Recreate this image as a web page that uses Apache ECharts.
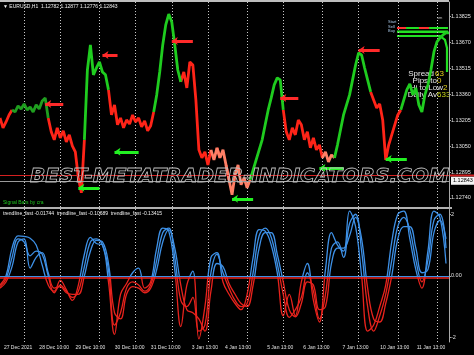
<!DOCTYPE html>
<html><head><meta charset="utf-8">
<script src="https://cdn.jsdelivr.net/npm/echarts@6/dist/echarts.min.js"></script>
<style>html,body{margin:0;padding:0;background:#000}#c{width:474px;height:355px}</style>
</head><body><div id="c"></div>
<script>
// ---- price panel data (EURUSD H1 close) ----
const priceClose = [
 1.13219,1.13160,1.13195,1.13237,1.13267,1.13255,1.13291,1.13273,1.13303,1.13267,
 1.13285,1.13255,1.13297,1.13273,1.13321,1.13339,1.13219,1.13136,1.13088,1.13160,
 1.13100,1.13142,1.13076,1.13118,1.13052,1.13016,1.12861,1.12771,1.13088,1.13506,
 1.13656,1.13477,1.13518,1.13554,1.13494,1.13477,1.13387,1.13237,1.13297,1.13178,
 1.13219,1.13160,1.13207,1.13183,1.13237,1.13195,1.13219,1.13166,1.13201,1.13142,
 1.13172,1.13255,1.13357,1.13494,1.13656,1.13776,1.13841,1.13793,1.13656,1.13506,
 1.13435,1.13494,1.13399,1.13554,1.13536,1.13327,1.13028,1.12980,1.13016,1.12938,
 1.13028,1.12968,1.13040,1.12980,1.13028,1.12938,1.12849,1.12759,1.12879,1.12938,
 1.12819,1.12861,1.12801,1.12849,1.12908,1.12968,1.13028,1.13088,1.13178,1.13267,
 1.13339,1.13417,1.13459,1.13447,1.13267,1.13136,1.13088,1.13160,1.13118,1.13207,
 1.13178,1.13088,1.13136,1.13040,1.13100,1.13028,1.13058,1.12980,1.13016,1.12956,
 1.12998,1.12980,1.13058,1.13148,1.13237,1.13297,1.13357,1.13447,1.13536,1.13608,
 1.13596,1.13518,1.13447,1.13375,1.13327,1.13279,1.13303,1.13207,1.12968,1.13058,
 1.13118,1.13178,1.13237,1.13267,1.13327,1.13387,1.13423,1.13357,1.13399,1.13297,
 1.13255,1.13357,1.13417,1.13506,1.13614,1.13674,1.13698,1.13716,1.13728,1.13728
];
// bar colour runs: G = up (green), D = weak up (dark green), R = down (red), S = weak down (salmon)
const trendRuns = [['R',4],['D',12],['R',12],['G',8],['R',15],['G',9],['R',10],['S',2],['R',1],['S',2],['R',1],['S',7],['G',11],['R',13],['S',4],['G',12],['R',10],['G',17]];
// [startBar, endBar, price]
const resistanceMarks = [[15,21,1.13303],[34,39,1.13596],[57,64,1.13680],[93,99,1.13339],[119,126,1.13626]];
const supportMarks = [[26,33,1.12801],[38,46,1.13016],[77,84,1.12735],[106,114,1.12920],[128,135,1.12974]];
const askPrice = 1.12877;
const bidPrice = 1.12843;
const priceTicks = [1.12740,1.12895,1.13050,1.13205,1.13360,1.13515,1.13670,1.13825];

// ---- oscillator panel (trendline_fast x3, every 2nd bar) ----
const oscA = [-0.3,0.0,0.9,1.3,1.28,1.22,1.0,0.35,-0.3,-0.5,
 -0.15,-0.45,-0.8,-0.3,0.7,1.25,1.05,1.0,-0.2,-1.9,
 -0.6,-0.25,0.1,0.25,-0.4,-0.2,0.9,1.55,1.45,0.2,
 -1.65,-0.3,0.15,-2.05,-1.0,0.6,0.75,-0.2,-0.6,-0.9,
 -1.1,-0.6,0.6,1.5,1.45,1.0,0.1,-1.3,-0.6,-1.3,
 -0.2,0.4,-0.8,-1.5,0.2,1.4,1.0,0.8,2.1,1.6,
 0.0,-1.8,-1.6,-1.0,-0.3,1.1,2.0,2.1,1.2,0.2,
 -0.4,0.8,2.1,1.9,0.4];
const oscB = [-0.35,-0.1,0.6,1.2,1.1,0.65,0.8,0.7,0.0,-0.55,
 -0.3,-0.5,-0.7,-0.5,0.3,1.1,1.2,1.0,0.2,-1.6,
 -1.2,-0.4,-0.2,-0.3,-0.5,-0.3,0.5,1.4,1.55,0.6,
 -0.8,-1.0,-0.7,-1.8,-1.6,0.1,0.7,0.1,-0.4,-0.8,
 -1.0,-0.9,0.1,1.3,1.55,1.25,0.4,-0.6,-1.35,-1.1,
 -0.7,0.1,-0.5,-1.4,-0.6,0.9,1.1,0.6,1.7,2.0,
 0.8,-1.0,-1.8,-1.3,-0.6,0.5,1.6,1.9,1.5,0.5,
 -0.2,0.5,1.8,2.0,0.9];
const oscC = [-0.4,-0.2,0.3,1.1,1.2,0.25,0.6,0.75,0.1,-0.4,
 -0.35,-0.55,-0.6,-0.6,0.0,0.8,1.15,1.1,0.4,-1.2,
 -1.4,-0.6,-0.35,-0.4,-0.55,-0.4,0.2,1.1,1.5,0.9,
 -0.3,-1.1,-1.2,-1.4,-1.8,-0.5,0.4,0.3,-0.25,-0.6,
 -0.9,-1.0,-0.3,0.9,1.4,1.4,0.7,-0.2,-1.1,-1.33,
 -0.9,-0.2,-0.3,-1.1,-1.0,0.4,0.9,0.9,1.3,1.9,
 1.2,-0.4,-1.4,-1.5,-0.9,0.0,1.2,1.6,1.6,0.9,
 0.1,0.2,1.4,1.8,1.2];
const oscTicks = [-2,0,2];
const oscLegend = 'trendline_fast -0.01744  trendline_fast -0.10689  trendline_fast -0.13415';

// ---- time axis ----
const timeLabels = ['27 Dec 2021','28 Dec 10:00','29 Dec 10:00','30 Dec 10:00','31 Dec 10:00','3 Jan 13:00','4 Jan 13:00','5 Jan 13:00','6 Jan 13:00','7 Jan 13:00','10 Jan 13:00','11 Jan 13:00'];
const timeLabelBar = [6,18,30,43,55,68,79,93,105,118,131,143];
const gridLineBar = [8,20,33,45,57,69,82,94,107,119,132,145];

// ---- build ----
const cats = priceClose.map((_, i) => String(i));
const lastBar = priceClose.length - 1;
const trend = [];
trendRuns.forEach(([c, n]) => { for (let k = 0; k < n; k++) trend.push(c); });
const colorData = c => priceClose.map((v, i) => (trend[i] === c || trend[i - 1] === c) ? v : null);
const oscData = arr => arr.map((v, k) => [k * 2, v]);

const FONT = 'Liberation Sans';
const dotted = { show: true, interval: (i) => gridLineBar.includes(i), lineStyle: { color: '#c8c8c8', width: 1, type: [1, 2] } };

const markLineOf = (marks, color) => ({
  silent: true, symbol: ['arrow', 'none'], symbolSize: 6, label: { show: false },
  lineStyle: { color: color, width: 3, type: 'solid' },
  data: marks.map(([s, e, p]) => [{ coord: [s, p] }, { coord: [e, p] }])
});

const priceLine = (c, color) => ({
  type: 'line', xAxisIndex: 0, yAxisIndex: 0, data: colorData(c), showSymbol: false,
  lineStyle: { color: color, width: 2.8 }, silent: true, z: 3
});
const oscLine = arr => ({
  type: 'line', xAxisIndex: 1, yAxisIndex: 1, data: oscData(arr), showSymbol: false,
  smooth: 0.4, lineStyle: { width: 1.3 }, silent: true, z: 4
});

const chart = echarts.init(document.getElementById('c'));
chart.setOption({
  backgroundColor: '#000000',
  animation: false,
  grid: [
    { left: 0, right: 25, top: 2, height: 205 },
    { left: 0, right: 25, top: 209, height: 133 }
  ],
  xAxis: [
    { type: 'category', gridIndex: 0, data: cats, boundaryGap: false,
      axisLine: { show: false }, axisTick: { show: false }, axisLabel: { show: false }, splitLine: dotted },
    { type: 'category', gridIndex: 1, data: cats, boundaryGap: false,
      axisLine: { show: false }, axisTick: { show: false }, splitLine: dotted,
      axisLabel: { show: true, interval: (i) => timeLabelBar.includes(i),
        formatter: (v) => { const k = timeLabelBar.indexOf(Number(v)); return k >= 0 ? timeLabels[k] : ''; },
        color: '#e0e0e0', fontSize: 5, fontFamily: FONT, margin: 3 } }
  ],
  yAxis: [
    { type: 'value', gridIndex: 0, position: 'right', min: 1.12686, max: 1.13913,
      axisLine: { show: true, lineStyle: { color: '#a8a8a8', width: 1 } },
      axisTick: { show: true, length: 2, customValues: priceTicks, lineStyle: { color: '#a8a8a8' } },
      axisLabel: { show: true, customValues: priceTicks, formatter: v => v.toFixed(5), color: '#e0e0e0', fontSize: 5.5, fontFamily: FONT, margin: 2 },
      splitLine: { show: false } },
    { type: 'value', gridIndex: 1, position: 'right', min: -2.15, max: 2.17,
      axisLine: { show: true, lineStyle: { color: '#a8a8a8', width: 1 } },
      axisTick: { show: true, length: 2, customValues: oscTicks, lineStyle: { color: '#a8a8a8' } },
      axisLabel: { show: true, customValues: oscTicks, formatter: v => v === 0 ? '0.00' : String(v), color: '#e0e0e0', fontSize: 5.5, fontFamily: FONT, margin: 2 },
      splitLine: { show: false } }
  ],
  visualMap: {
    show: false, type: 'piecewise', seriesIndex: [7, 8, 9], dimension: 1,
    pieces: [{ min: -10, max: 0, color: '#e8221c' }, { min: 0, max: 10, color: '#3d90e6' }]
  },
  series: [
    priceLine('R', '#ff2418'),
    priceLine('S', '#ff7f66'),
    priceLine('D', '#1f9e1f'),
    priceLine('G', '#1fcc1f'),
    { type: 'line', xAxisIndex: 0, yAxisIndex: 0, data: [], silent: true, z: 5, markLine: markLineOf(resistanceMarks, '#ff2a2a') },
    { type: 'line', xAxisIndex: 0, yAxisIndex: 0, data: [], silent: true, z: 5, markLine: markLineOf(supportMarks, '#22f022') },
    { type: 'line', xAxisIndex: 0, yAxisIndex: 0, data: [], silent: true, z: 6,
      markLine: { silent: true, symbol: 'none',
        data: [
          [{ coord: [0, askPrice], lineStyle: { color: '#d42020', width: 1, type: 'solid' }, label: { show: false } },
           { coord: [lastBar, askPrice] }],
          [{ coord: [0, bidPrice], lineStyle: { color: '#9a9a9a', width: 1, type: 'solid' },
             label: { show: true, position: 'end', distance: 2, formatter: () => bidPrice.toFixed(5), color: '#000', backgroundColor: '#f4f4f4',
               fontSize: 5.5, fontFamily: FONT, padding: [1, 2] } },
           { coord: [lastBar, bidPrice] }]
        ] } },
    oscLine(oscA),
    oscLine(oscB),
    oscLine(oscC),
    { type: 'line', xAxisIndex: 1, yAxisIndex: 1, data: [], silent: true, z: 3,
      markLine: { silent: true, symbol: 'none', label: { show: false },
        data: [
          { yAxis: -0.05, lineStyle: { color: '#e8221c', width: 1.5, type: 'solid' } },
          { yAxis: 0, lineStyle: { color: '#3d90e6', width: 1.2, type: 'solid' } }
        ] } }
  ],
  graphic: [
    { type: 'rect', shape: { x: 0, y: 0, width: 449, height: 2 }, style: { fill: '#bdbdbd' }, silent: true },
    { type: 'rect', shape: { x: 0, y: 207, width: 452, height: 2 }, style: { fill: '#b0b0b0' }, silent: true },
    { type: 'rect', shape: { x: 449, y: 174.5, width: 25, height: 2 }, style: { fill: '#d42020' }, silent: true },
    { type: 'text', x: 3, y: 7, style: { text: '\u25BC EURUSD,H1  1.12782 1.12877 1.12776 1.12843', fill: '#f0f0f0', font: '5px "Liberation Sans"', verticalAlign: 'middle' }, silent: true },
    { type: 'text', x: 3, y: 203, style: { text: 'Signal Bars by cra', fill: '#1fc81f', font: '5px "Liberation Sans"', verticalAlign: 'middle' }, silent: true },
    { type: 'text', x: 3, y: 214, style: { text: oscLegend, fill: '#f0f0f0', font: '5px "Liberation Sans"', verticalAlign: 'middle' }, silent: true },
    // info panel
    { type: 'text', x: 434, y: 74, style: { text: 'Spread', fill: '#e8e8e8', font: '8px "Liberation Sans"', align: 'right', verticalAlign: 'middle' }, silent: true },
    { type: 'text', x: 435, y: 74, style: { text: '63', fill: '#e6d21a', font: '8px "Liberation Sans"', verticalAlign: 'middle' }, silent: true },
    { type: 'text', x: 437, y: 81, style: { text: 'Pips to', fill: '#e8e8e8', font: '8px "Liberation Sans"', align: 'right', verticalAlign: 'middle' }, silent: true },
    { type: 'text', x: 437, y: 81, style: { text: '0', fill: '#e6d21a', font: '8px "Liberation Sans"', verticalAlign: 'middle' }, silent: true },
    { type: 'text', x: 443, y: 88, style: { text: 'Hi to Low', fill: '#e8e8e8', font: '8px "Liberation Sans"', align: 'right', verticalAlign: 'middle' }, silent: true },
    { type: 'text', x: 443, y: 88, style: { text: '2', fill: '#e6d21a', font: '8px "Liberation Sans"', verticalAlign: 'middle' }, silent: true },
    { type: 'text', x: 437, y: 95, style: { text: 'Daily Av', fill: '#e8e8e8', font: '8px "Liberation Sans"', align: 'right', verticalAlign: 'middle' }, silent: true },
    { type: 'text', x: 437, y: 95, style: { text: '633', fill: '#c8d81a', font: '8px "Liberation Sans"', verticalAlign: 'middle' }, silent: true },
    // signal widget top right
    { type: 'rect', shape: { x: 397, y: 27, width: 9, height: 2 }, style: { fill: '#ff3030' }, silent: true },
    { type: 'rect', shape: { x: 406, y: 27, width: 13, height: 2 }, style: { fill: '#22e022' }, silent: true },
    { type: 'rect', shape: { x: 419, y: 27, width: 10, height: 2 }, style: { fill: '#ff3030' }, silent: true },
    { type: 'rect', shape: { x: 429, y: 27, width: 19, height: 2 }, style: { fill: '#22e022' }, silent: true },
    { type: 'rect', shape: { x: 397, y: 30.5, width: 51, height: 2.5 }, style: { fill: '#22e022' }, silent: true },
    { type: 'polyline', shape: { points: [[397, 36], [440, 36], [445, 40], [447, 48], [447, 72]] }, style: { stroke: '#22e022', lineWidth: 2.2, fill: 'none' }, silent: true },
    { type: 'text', x: 388, y: 22, style: { text: 'Start', fill: '#a8c8e8', font: '4px "Liberation Sans"', verticalAlign: 'middle' }, silent: true },
    { type: 'text', x: 388, y: 26.5, style: { text: 'Sell', fill: '#a8c8e8', font: '4px "Liberation Sans"', verticalAlign: 'middle' }, silent: true },
    { type: 'text', x: 388, y: 31, style: { text: 'Buy', fill: '#a8c8e8', font: '4px "Liberation Sans"', verticalAlign: 'middle' }, silent: true },
    { type: 'text', x: 437, y: 18, style: { text: 'sm', fill: '#c0c0c0', font: '4px "Liberation Sans"', verticalAlign: 'middle' }, silent: true },
    // watermark
    { type: 'text', x: 30, y: 177.5, scaleX: 1.06, z: 100, silent: true,
      style: { text: 'BEST-METATRADER-INDICATORS.COM', font: 'italic bold 19px "DejaVu Sans"', fill: 'rgba(0,0,0,0)', stroke: '#bfbfbf', lineWidth: 0.8, verticalAlign: 'middle' } }
  ]
});
</script></body></html>
